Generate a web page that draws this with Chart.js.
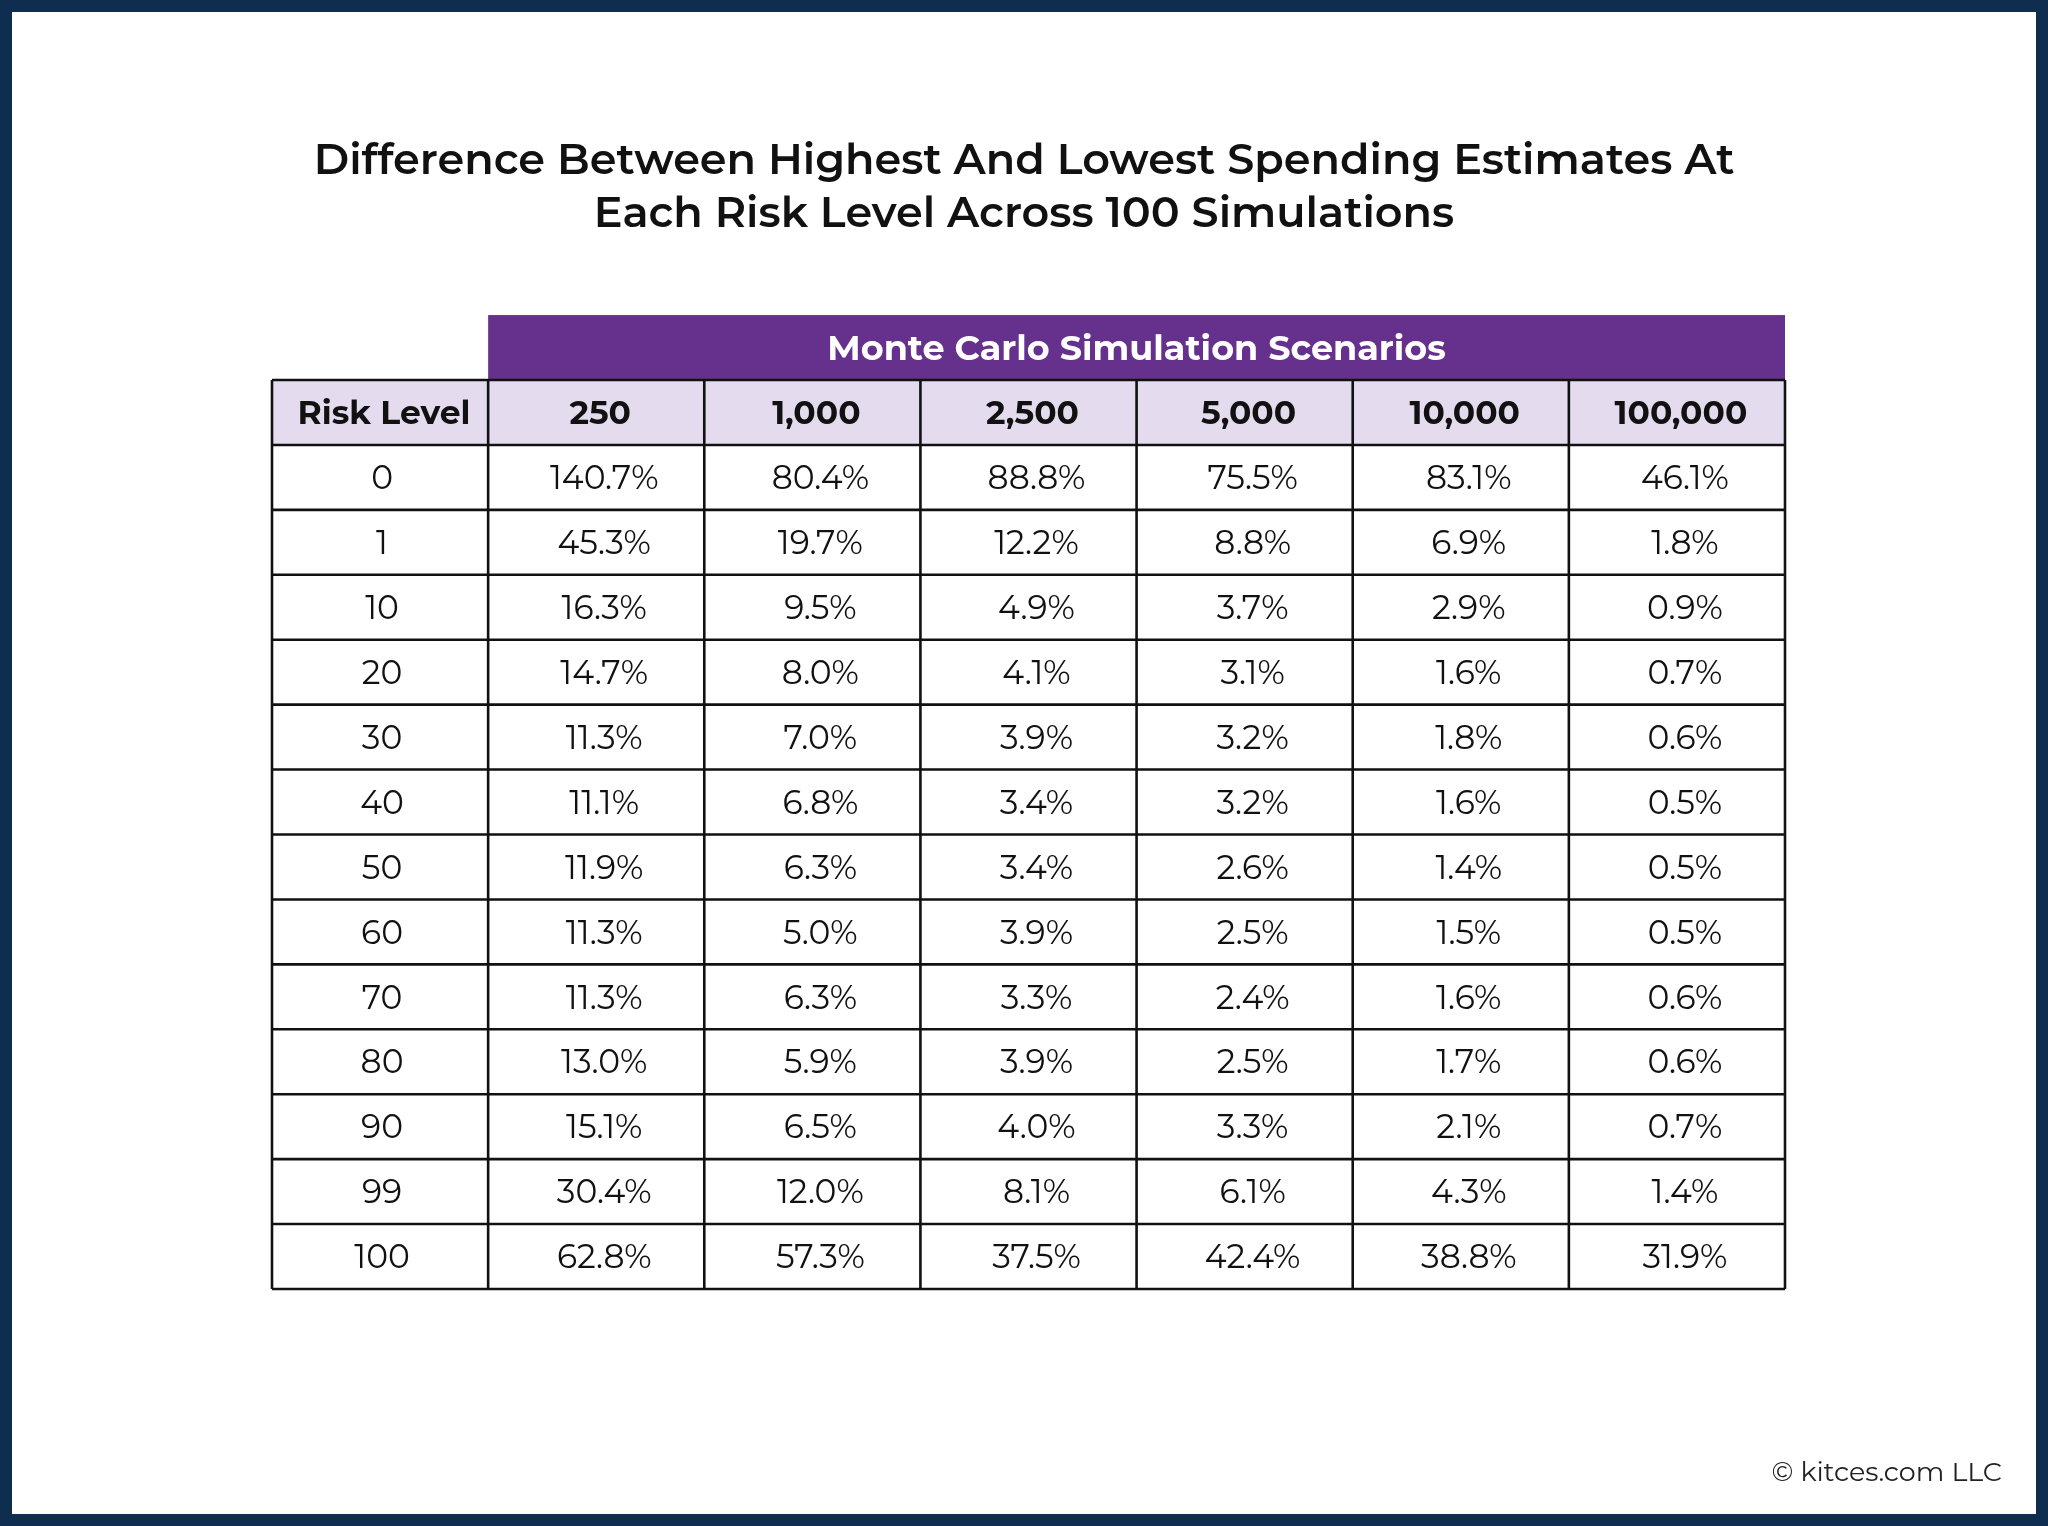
<!DOCTYPE html>
<html><head><meta charset="utf-8">
<script src="https://cdn.jsdelivr.net/npm/chart.js@4.4.1/dist/chart.umd.min.js"></script>
<style>html,body{margin:0;padding:0;background:#fff}canvas{display:block}</style>
</head><body>
<canvas id="c" width="2048" height="1526"></canvas>
<script>
const titleLines = ["Difference Between Highest And Lowest Spending Estimates At","Each Risk Level Across 100 Simulations"];
const banner = "Monte Carlo Simulation Scenarios";
const columns = ["Risk Level","250","1,000","2,500","5,000","10,000","100,000"];
const riskLevels = ["0","1","10","20","30","40","50","60","70","80","90","99","100"];
const s250    = ["140.7%","45.3%","16.3%","14.7%","11.3%","11.1%","11.9%","11.3%","11.3%","13.0%","15.1%","30.4%","62.8%"];
const s1000   = ["80.4%","19.7%","9.5%","8.0%","7.0%","6.8%","6.3%","5.0%","6.3%","5.9%","6.5%","12.0%","57.3%"];
const s2500   = ["88.8%","12.2%","4.9%","4.1%","3.9%","3.4%","3.4%","3.9%","3.3%","3.9%","4.0%","8.1%","37.5%"];
const s5000   = ["75.5%","8.8%","3.7%","3.1%","3.2%","3.2%","2.6%","2.5%","2.4%","2.5%","3.3%","6.1%","42.4%"];
const s10000  = ["83.1%","6.9%","2.9%","1.6%","1.8%","1.6%","1.4%","1.5%","1.6%","1.7%","2.1%","4.3%","38.8%"];
const s100000 = ["46.1%","1.8%","0.9%","0.7%","0.6%","0.5%","0.5%","0.5%","0.6%","0.6%","0.7%","1.4%","31.9%"];
const series = [riskLevels, s250, s1000, s2500, s5000, s10000, s100000];
const rowKeys = ["header", ...riskLevels.map((r,i)=>"r"+i)];
const FONT = "Montserrat, 'Noto Sans', sans-serif";

const tablePlugin = {
  id:'table',
  beforeDraw(chart){
    const ctx = chart.ctx;
    ctx.save();
    ctx.fillStyle='#fff'; ctx.fillRect(0,0,chart.width,chart.height);
    ctx.strokeStyle='#0f2d4f'; ctx.lineWidth=12;
    ctx.strokeRect(6,6,chart.width-12,chart.height-12);
    ctx.restore();
  },
  afterDraw(chart){
    const ctx = chart.ctx, xs = chart.scales.x, ys = chart.scales.y;
    const cw = xs.width/columns.length, rh = ys.height/rowKeys.length;
    const left = xs.left, right = xs.right, top = ys.top, bottom = ys.bottom;
    ctx.save();
    ctx.fillStyle='#111'; ctx.textAlign='center'; ctx.textBaseline='middle';
    ctx.font = "600 43px "+FONT;
    ctx.fillText(titleLines[0], 1024, 161);
    ctx.fillText(titleLines[1], 1024, 214);
    const bx = xs.getPixelForValue(1)-cw/2;
    ctx.fillStyle='#66308d'; ctx.fillRect(bx, top-rh, right-bx, rh);
    ctx.fillStyle='#fff'; ctx.font="bold 35px "+FONT;
    ctx.fillText(banner,(bx+right)/2, top-rh/2+2);
    ctx.fillStyle='#e4dcee'; ctx.fillRect(left, top, right-left, rh);
    columns.forEach((c,i)=>{
      ctx.fillStyle='#111'; ctx.font="bold 33px "+FONT;
      ctx.fillText(c, xs.getPixelForValue(i)+4, ys.getPixelForValue(0)+2);
    });
    ctx.font="33px "+FONT;
    series.forEach((col,i)=>col.forEach((v,j)=>{
      ctx.fillText(v, xs.getPixelForValue(i)+(i?8:2), ys.getPixelForValue(j+1)+2);
    }));
    ctx.strokeStyle='#111'; ctx.lineWidth=2.6;
    ctx.beginPath();
    for(let i=0;i<=columns.length;i++){ const x=left+i*cw; ctx.moveTo(x, top); ctx.lineTo(x,bottom); }
    for(let j=0;j<=rowKeys.length;j++){ const y=top+j*rh; ctx.moveTo(left,y); ctx.lineTo(right,y); }
    ctx.stroke();
    ctx.textAlign='right'; ctx.font="27px "+FONT; ctx.fillStyle='#222';
    ctx.fillText("© kitces.com LLC", 2002, 1473);
    ctx.restore();
  }
};

new Chart(document.getElementById('c'),{
  type:'scatter',
  data:{datasets:[{data:[]}]},
  options:{
    responsive:false, animation:false,
    layout:{padding:{left:272,right:263,top:380,bottom:237}},
    plugins:{legend:{display:false},tooltip:{enabled:false},title:{display:false}},
    scales:{
      x:{type:'category',labels:columns,offset:true,display:false},
      y:{type:'category',labels:rowKeys,offset:true,display:false}
    }
  },
  plugins:[tablePlugin]
});
</script>
</body></html>
